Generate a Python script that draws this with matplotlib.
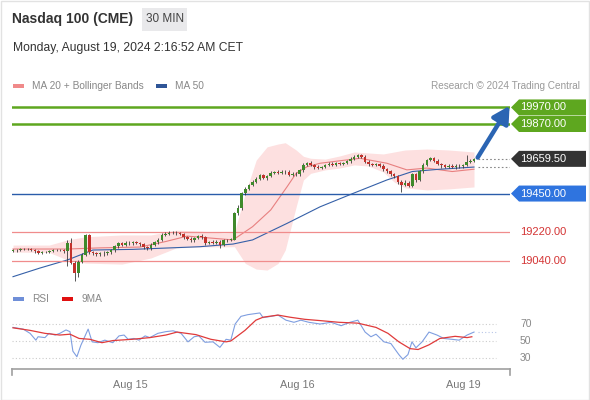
import numpy as np
import matplotlib
matplotlib.use("Agg")
import matplotlib.pyplot as plt
from matplotlib.patches import Rectangle, Polygon
from matplotlib.transforms import blended_transform_factory

plt.rcParams['font.family'] = ['Liberation Sans', 'DejaVu Sans']

# 30 min candles, Nasdaq 100 futures (closes)
closes = [19108, 19111, 19114, 19118, 19115, 19108, 19102, 19092, 19095, 19098, 19101, 19108, 19110, 19109, 19102,
          19151, 19033, 18972, 19038, 19080, 19200, 19095,
          19090, 19085, 19092, 19088, 19095, 19108,
          19131, 19149, 19141, 19153, 19149, 19156, 19151, 19143, 19126, 19119,
          19141, 19156, 19172, 19201, 19208, 19211, 19213, 19209, 19205,
          19187, 19177, 19167, 19182, 19194, 19187, 19151, 19158, 19153, 19160, 19141, 19167, 19170, 19172,
          19331, 19361, 19454, 19480, 19502, 19521, 19539, 19560, 19544, 19557,
          19577, 19580, 19577, 19583, 19580, 19562, 19570, 19567, 19591, 19624,
          19634, 19622, 19613, 19605, 19611, 19622, 19630, 19624, 19632, 19628,
          19634, 19644, 19660, 19673, 19680, 19673, 19642, 19626, 19622, 19626,
          19619, 19598, 19585, 19567, 19554, 19521, 19502, 19516, 19498, 19567,
          19531, 19585, 19624, 19652, 19663, 19646, 19629, 19622, 19613, 19619,
          19611, 19619, 19615, 19622, 19642, 19649, 19659.5]
first_open = 19105
wick_up = [6, 6, 8, 6, 6, 8, 6, 6, 8, 6, 6, 6, 8, 6, 6, 18,
           30, 8, 10, 8, 6, 8, 8, 10, 8, 10, 8, 8, 10, 8, 8, 10,
           8, 8, 10, 6, 8, 8, 8, 10, 8, 8, 8, 10, 8, 8, 8, 8,
           8, 10, 8, 8, 10, 8, 8, 10, 8, 10, 8, 8, 8, 6, 22, 8,
           8, 8, 10, 8, 8, 10, 8, 10, 8, 10, 8, 8, 10, 8, 8, 8,
           8, 8, 12, 8, 10, 8, 8, 8, 10, 8, 8, 8, 8, 8, 8, 8,
           8, 8, 10, 8, 8, 10, 8, 8, 10, 8, 8, 8, 15, 8, 10, 8,
           8, 8, 8, 6, 8, 10, 8, 8, 10, 8, 8, 10, 8, 40, 8, 6]
wick_dn = [6, 8, 6, 6, 8, 6, 8, 8, 6, 6, 8, 6, 6, 8, 8, 90,
           8, 50, 25, 8, 6, 8, 10, 10, 15, 15, 12, 8, 8, 8, 10, 8,
           8, 8, 8, 10, 8, 10, 8, 8, 8, 8, 8, 8, 8, 8, 8, 10,
           8, 10, 8, 8, 10, 12, 8, 8, 10, 20, 8, 8, 8, 5, 8, 8,
           15, 8, 8, 10, 8, 8, 10, 8, 8, 8, 8, 10, 8, 8, 8, 8,
           8, 8, 8, 12, 8, 8, 8, 8, 8, 8, 8, 8, 8, 8, 8, 8,
           10, 8, 8, 8, 8, 8, 10, 8, 8, 10, 15, 40, 8, 10, 8, 12,
           8, 8, 8, 8, 8, 8, 15, 8, 8, 8, 10, 8, 8, 8, 8, 6]

# moving averages / bands, read at some candle positions
ma50_idx = [0, 7.4, 15, 22, 33, 51.5, 60.6, 66, 75.5, 84.6, 93.7, 103, 110, 117, 127]
ma50_vals = [18948, 19000, 19049, 19109, 19113, 19129, 19145, 19170, 19270, 19370, 19451, 19532, 19583, 19596, 19610]
ma20_idx = [0, 15, 24, 35, 42, 48, 54, 60.6, 66, 71, 75.5, 78, 81, 84.6, 95.6, 103, 108.5, 114, 121, 127]
ma20_vals = [19115, 19115, 19122, 19127, 19160, 19193, 19182, 19170, 19250, 19351, 19491, 19572, 19612, 19633,
             19663, 19633, 19593, 19604, 19583, 19597]
band_idx = [0, 10, 15, 20, 30, 38, 45, 52, 58, 61, 64, 67, 70, 73, 75, 78, 80, 82, 86, 90, 94, 98, 102, 105,
            108, 114, 120, 127]
band_up = [19139, 19139, 19170, 19189, 19200, 19200, 19229, 19223, 19212, 19215, 19451, 19652, 19732, 19749,
           19757, 19713, 19675, 19663, 19658, 19677, 19701, 19695, 19689, 19701, 19713, 19719, 19713, 19701]
band_lo = [19097, 19094, 19049, 19030, 19024, 19061, 19122, 19128, 19128, 19129, 19028, 18994, 18988, 19028,
           19109, 19370, 19532, 19572, 19593, 19604, 19623, 19616, 19580, 19520, 19484, 19472, 19478, 19490]

# RSI panel
rsi_idx = [0, 2.8, 4.7, 6.3, 6.9, 8.8, 9.9, 11.6, 12.9, 14.6, 15.7, 16.5, 17.6, 18.7, 20.7, 21.8, 23.4, 25.3,
           27.5, 29.2, 30.6, 31.7, 33.3, 34.7, 36.4, 37.7, 39.9, 42.1, 44.1, 46.3, 48.2, 49.9, 51.2, 52.9, 55.1,
           57, 58.7, 60, 61.2, 62.8, 64.7, 68, 68.9, 71.1, 73, 75.2, 77.4, 79.3, 81.5, 84.6, 87.6, 90.4, 92.8, 95,
           97, 98.6, 100, 102.2, 104.1, 106.3, 107.4, 108.8, 109.9, 111, 112.7, 114.6, 116.8, 118.7, 120.9,
           122.9, 125.1, 127]
rsi_vals = [66, 64, 59, 51, 55, 54, 59, 57, 59, 63, 61, 38, 31.5, 45, 64, 49, 48, 51, 48, 56, 57, 52, 53, 51, 56,
            54, 59, 61, 62, 59, 49, 55, 56, 48.5, 49, 42.5, 52, 51, 70, 79, 81, 83, 77.5, 79, 80.5, 74.5, 72,
            74.5, 72, 70, 72, 68, 72, 74.5, 60.5, 55, 58, 49, 47, 34, 28.5, 34, 49, 42, 49, 60.5, 57, 53, 52, 51,
            57, 60.5]
rsi_ma_idx = [0, 4.7, 8.8, 12.9, 15.7, 18.2, 21.2, 24.5, 27.5, 32.8, 37.7, 42.1, 45.2, 50.4, 54.5, 58.7, 60,
              63.9, 66.9, 68.9, 73, 76.3, 80.4, 84.6, 89.8, 95, 100, 103.3, 106.3, 109.4, 111.6, 114.6, 117.6,
              121.8, 125.1, 126.4]
rsi_ma_vals = [65.5, 62.5, 59, 57, 58, 53, 52, 48, 50.5, 52, 54, 57, 60.5, 57.5, 52, 49, 50, 62.5, 74.5, 78,
               80.5, 78, 75.5, 74, 72, 71, 66, 59, 49, 41, 40, 45.5, 53, 55.5, 54, 55]

# levels
res_levels = [19970, 19870]
pivot_level = 19450
sup_levels = [19220, 19040]
target = 19970

date_pos = [32.2, 78.2, 124]
date_labels = ["Aug 15", "Aug 16", "Aug 19"]

W, H = 590, 400
fig = plt.figure(figsize=(W / 100, H / 100), dpi=100)
fig.patch.set_facecolor("white")


def fx(px):
    return px / W


def fy(py):
    return 1 - py / H


# border
fig.patches.append(Rectangle((0.001, 0.001), 0.998, 0.997, transform=fig.transFigure,
                             fill=False, ec="#e2e2e2", lw=1))

# header
fig.text(fx(12), fy(19), "Nasdaq 100 (CME)", fontsize=10, fontweight="bold", color="#333333", va="center")
fig.patches.append(Rectangle((fx(142), fy(31)), fx(45), 23 / H, transform=fig.transFigure,
                             fc="#e9e9eb", ec="none"))
fig.text(fx(165), fy(19), "30 MIN", fontsize=8.5, color="#444444", va="center", ha="center")
fig.text(fx(13), fy(48), "Monday, August 19, 2024 2:16:52 AM CET", fontsize=8.7, color="#333333", va="center")

# legend row
fig.patches.append(Rectangle((fx(13), fy(88)), fx(11), 4 / H, transform=fig.transFigure, fc="#f08a8a", ec="none"))
fig.text(fx(32), fy(86), "MA 20 + Bollinger Bands", fontsize=7.3, color="#888888", va="center")
fig.patches.append(Rectangle((fx(156), fy(88)), fx(11), 4 / H, transform=fig.transFigure, fc="#2f5597", ec="none"))
fig.text(fx(175), fy(86), "MA 50", fontsize=7.3, color="#888888", va="center")
fig.text(fx(580), fy(86), "Research \u00a9 2024 Trading Central", fontsize=7.2, color="#9a9a9a",
         va="center", ha="right")

# ---- price panel ----
px_per_pt = 0.1656
y_top, y_bot = 95, 285
p_top = 19870 + (124 - y_top) / px_per_pt
p_bot = 19870 - (y_bot - 124) / px_per_pt
x_left, x_right = 12, 510
i_left = (x_left - 13) / 3.63
i_right = (x_right - 13) / 3.63

ax = fig.add_axes([fx(x_left), fy(y_bot), (x_right - x_left) / W, (y_bot - y_top) / H])
ax.set_xlim(i_left, i_right)
ax.set_ylim(p_bot, p_top)
ax.axis("off")

ax.fill_between(band_idx, band_lo, band_up, color="#fde0e0", lw=0, zorder=1)
ax.plot(ma20_idx, ma20_vals, color="#e88080", lw=0.8, zorder=2)
ax.plot(ma50_idx, ma50_vals, color="#3560a8", lw=0.8, zorder=2)

for lv in res_levels:
    ax.axhline(lv, color="#5ea71f", lw=1.8, zorder=2)
ax.axhline(pivot_level, color="#2a5caa", lw=1.0, zorder=2)
for lv in sup_levels:
    ax.axhline(lv, color="#f08c8c", lw=0.9, zorder=2)

# candles
closes_a = np.array(closes, dtype=float)
opens_a = np.concatenate([[first_open], closes_a[:-1]])
idx = np.arange(len(closes_a))
highs = np.maximum(opens_a, closes_a) + np.array(wick_up)
lows = np.minimum(opens_a, closes_a) - np.array(wick_dn)
up = closes_a >= opens_a
colors = np.where(up, "#3f8a2b", "#c4312b")
ax.vlines(idx, lows, highs, color="#3a3a3a", lw=0.6, zorder=3)
body = np.maximum(np.abs(closes_a - opens_a), 3)
ax.bar(idx, body, bottom=np.minimum(opens_a, closes_a), width=0.7, color=colors, lw=0, zorder=4)

# last price + MA dotted
last_i = idx[-1] + 1
ax.plot([last_i, i_right], [closes[-1], closes[-1]], color="#888888", lw=0.8, ls=(0, (1.5, 2)), zorder=2)
ax.plot([last_i, i_right], [ma50_vals[-1], ma50_vals[-1]], color="#888888", lw=0.8, ls=(0, (1.5, 2)), zorder=2)

# forecast arrow
ax.annotate("", xy=(136.8, target + 10), xytext=(last_i, closes[-1] + 8),
            arrowprops=dict(arrowstyle="-|>,head_width=0.55,head_length=1.0", lw=3.2,
                            color="#2b65b3", shrinkA=0, shrinkB=0), annotation_clip=False, zorder=6)

# right tags
tr = blended_transform_factory(ax.transAxes, ax.transData)


def ax_x(px):
    return (px - x_left) / (x_right - x_left)


def tag(price, fc, label):
    h = 8 / px_per_pt
    verts = [(ax_x(511), price), (ax_x(519), price + h), (ax_x(586), price + h),
             (ax_x(586), price - h), (ax_x(519), price - h)]
    ax.add_patch(Polygon(verts, closed=True, transform=tr, fc=fc, ec="none", clip_on=False, zorder=5))
    ax.text(ax_x(520), price, label, transform=tr, color="white", fontsize=8, va="center", ha="left",
            clip_on=False, zorder=6)


for lv in res_levels:
    tag(lv, "#5ea71f", f"{lv:.2f}")
tag(closes[-1], "#333333", f"{closes[-1]:.2f}")
tag(pivot_level, "#2f74df", f"{pivot_level:.2f}")
for lv in sup_levels:
    ax.text(ax_x(520), lv, f"{lv:.2f}", transform=tr, color="#d43434", fontsize=8, va="center",
            ha="left", clip_on=False)

# ---- RSI panel ----
fig.patches.append(Rectangle((fx(13), fy(301)), fx(11), 4 / H, transform=fig.transFigure, fc="#6f8fd8", ec="none"))
fig.text(fx(32), fy(299), "RSI", fontsize=7.3, color="#888888", va="center")
fig.patches.append(Rectangle((fx(62), fy(301)), fx(11), 4 / H, transform=fig.transFigure, fc="#e01010", ec="none"))
fig.text(fx(81), fy(299), "9MA", fontsize=7.3, color="#888888", va="center")

r_top, r_bot = 310, 369
rv_top = 50 + (341 - r_top) / 0.85
rv_bot = 50 - (r_bot - 341) / 0.85
ax2 = fig.add_axes([fx(x_left), fy(r_bot), (x_right - x_left) / W, (r_bot - r_top) / H])
ax2.set_xlim(i_left, i_right)
ax2.set_ylim(rv_bot, rv_top)
for s in ["top", "left", "right"]:
    ax2.spines[s].set_visible(False)
ax2.spines["bottom"].set_color("#a0a0a0")
ax2.spines["bottom"].set_linewidth(1.2)
ax2.set_yticks([])
for lv in [70, 50, 30]:
    ax2.plot([i_left, 133], [lv, lv], color="#cccccc", lw=0.8, ls=(0, (1, 2)))
    ax2.text(ax_x(520), lv, str(lv), transform=blended_transform_factory(ax2.transAxes, ax2.transData),
             fontsize=7.5, color="#888888", va="center", clip_on=False)
ax2.plot([last_i, 133], [rsi_vals[-1], rsi_vals[-1]], color="#b8c6e8", lw=0.8, ls=(0, (1, 2)))
ax2.plot(rsi_idx, rsi_vals, color="#7f9ee0", lw=0.8)
ax2.plot(rsi_ma_idx, rsi_ma_vals, color="#e03a3a", lw=0.9)
for xe in [0.001, 0.999]:
    ax2.plot([xe, xe], [0, -0.1], transform=ax2.transAxes, color="#a0a0a0", lw=1.2, clip_on=False)
ax2.set_xticks(date_pos)
ax2.set_xticklabels(date_labels)
ax2.tick_params(axis="x", length=0, pad=8, labelsize=7.8, labelcolor="#777777")

fig.savefig("out.png", dpi=100)
